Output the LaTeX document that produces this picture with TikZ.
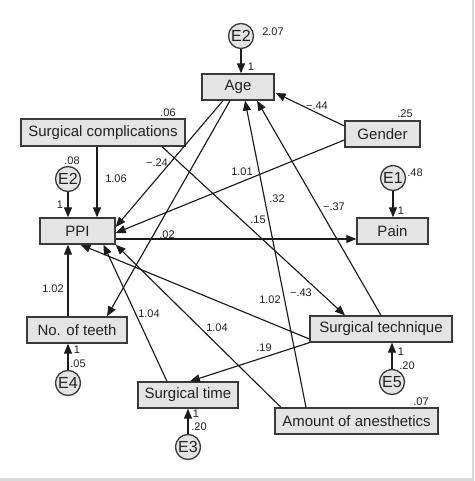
\documentclass[tikz,border=0pt]{standalone}
\usepackage{fontspec}
\setmainfont{Liberation Sans}
\usetikzlibrary{arrows.meta,calc}
\definecolor{boxfill}{HTML}{E4E4E4}
\definecolor{boxline}{HTML}{3A3A3A}
\definecolor{linecol}{HTML}{1C1C1C}
\definecolor{framecol}{HTML}{DADADA}
\definecolor{labcol}{HTML}{222222}
\begin{document}
\begin{tikzpicture}[x=1pt,y=-1pt,
  box/.style={draw=boxline,fill=boxfill,line width=1.3pt,inner sep=0pt,minimum height=26pt,text=labcol,font=\fontsize{15}{15}\selectfont},
  err/.style={circle,draw=boxline,fill=boxfill,line width=1.3pt,inner sep=0pt,minimum size=25pt,text=labcol,font=\fontsize{16}{16}\selectfont},
  conn/.style={draw=linecol,line width=1.15pt,-{Triangle[length=10pt,width=8pt]}},
  lab/.style={inner sep=0pt,text=labcol,font=\fontsize{11}{11}\selectfont}]
\useasboundingbox (0,0) rectangle (474,481);
\fill[framecol] (472,0) rectangle (474,481);
\fill[framecol] (0,478) rectangle (474,481);
% nodes
\node[box,minimum width=72pt] (Age) at (238,87) {Age};
\node[box,minimum width=164pt,minimum height=27pt] (SurgComp) at (103,132.5) {Surgical complications};
\node[box,minimum width=75pt] (Gender) at (382.5,134) {Gender};
\node[box,minimum width=75pt] (PPI) at (77.5,231) {PPI};
\node[box,minimum width=71pt] (Pain) at (392.5,231) {Pain};
\node[box,minimum width=100pt] (NoTeeth) at (77,330) {No. of teeth};
\node[box,minimum width=142pt] (SurgTech) at (381,329) {Surgical technique};
\node[box,minimum width=100pt] (SurgTime) at (188,395) {Surgical time};
\node[box,minimum width=163pt] (Amount) at (356.5,421) {Amount of anesthetics};
\node[err] (E2a) at (241,36) {E2};
\node[err] (E2b) at (68,179) {E2};
\node[err] (E1) at (393,178) {E1};
\node[err] (E4) at (68,383) {E4};
\node[err] (E5) at (392,382) {E5};
\node[err] (E3) at (188,447) {E3};
% connectors
\draw[conn] (E2a.south) -- (E2a |- Age.north);
\draw[conn] ([yshift=8pt]Gender.west) -- ([xshift=1pt,yshift=-6pt]Age.east);
\draw[conn] ([yshift=-6pt]Gender.west) -- ([yshift=-2pt]PPI.east);
\draw[conn] ([xshift=-15pt]Age.south) -- ([yshift=4pt]PPI.east);
\draw[conn] ([xshift=-8pt]Age.south) -- ([xshift=30pt]NoTeeth.north);
\draw[conn] ([xshift=-6pt]SurgComp.south) -- ([xshift=-6pt]SurgComp.south |- PPI.north);
\draw[conn] ([xshift=59pt]SurgComp.south) -- ([xshift=-36pt]SurgTech.north);
\draw[conn] (E2b.south) -- (E2b |- PPI.north);
\draw[conn] ([yshift=-8pt]PPI.east) -- ([yshift=-8pt]PPI.east -| Pain.west);
\draw[conn] (E1.south) -- (E1 |- Pain.north);
\draw[conn] ([xshift=-50.5pt]Amount.north) -- ([xshift=7pt]Age.south);
\draw[conn] (SurgTech.north) -- ([xshift=19pt]Age.south);
\draw[conn] ([yshift=-10pt]SurgTech.west) -- ([xshift=3pt]PPI.south);
\draw[conn] (SurgTech.south west) -- ([xshift=2pt]SurgTime.north);
\draw[conn] ([xshift=-21pt]SurgTime.north) -- ([xshift=26pt]PPI.south);
\draw[conn] ([xshift=-75.5pt]Amount.north) -- (PPI.south east);
\draw[conn] ([xshift=-9pt]NoTeeth.north) -- ([xshift=-9pt]NoTeeth.north |- PPI.south);
\draw[conn] (E4.north) -- (E4 |- NoTeeth.south);
\draw[conn] (E5.north) -- (E5 |- SurgTech.south);
\draw[conn] (E3.north) -- (E3 |- SurgTime.south);
% labels
\node[lab] (l1) at (273,32) {2.07};
\node[lab] (l2) at (251,67) {1};
\node[lab] (l3) at (168,113) {.06};
\node[lab] (l4) at (405,114) {.25};
\node[lab] (l5) at (317,106) {−.44};
\node[lab] (l6) at (72,161) {.08};
\node[lab] (l7) at (60,205) {1};
\node[lab] (l8) at (116,179) {1.06};
\node[lab] (l9) at (157,163) {−.24};
\node[lab] (l10) at (242,172) {1.01};
\node[lab] (l11) at (415,173) {.48};
\node[lab] (l12) at (401,211) {1};
\node[lab] (l13) at (277,199) {.32};
\node[lab] (l14) at (334,207) {−.37};
\node[lab] (l15) at (258,220) {.15};
\node[lab] (l16) at (167,235) {.02};
\node[lab] (l17) at (53,289) {1.02};
\node[lab] (l18) at (149,314) {1.04};
\node[lab] (l19) at (217,328) {1.04};
\node[lab] (l20) at (270,300) {1.02};
\node[lab] (l21) at (301,293) {−.43};
\node[lab] (l22) at (264,348) {.19};
\node[lab] (l23) at (77,350) {1};
\node[lab] (l24) at (78,364) {.05};
\node[lab] (l25) at (401,352) {1};
\node[lab] (l26) at (407,366) {.20};
\node[lab] (l27) at (196,414) {1};
\node[lab] (l28) at (199,427) {.20};
\node[lab] (l29) at (421,402) {.07};
\end{tikzpicture}
\end{document}
